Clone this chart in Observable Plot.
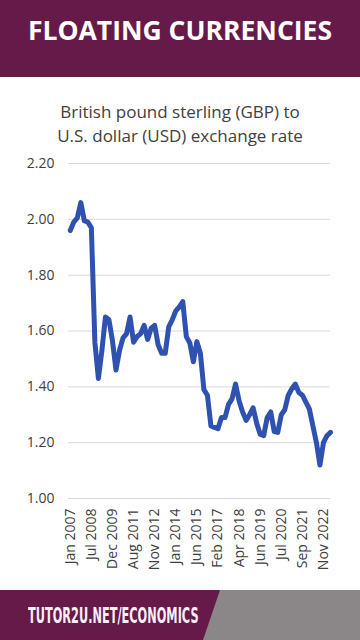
<!DOCTYPE html>
<html>
<head>
<meta charset="utf-8">
<script src="https://cdn.jsdelivr.net/npm/d3@7"></script>
<script src="https://cdn.jsdelivr.net/npm/@observablehq/plot@0.6"></script>
<style>
  html, body { margin: 0; padding: 0; }
  body { width: 360px; height: 640px; position: relative; overflow: hidden; background: #fff; font-family: "Open Sans", sans-serif; }
  #header { position: absolute; left: 0; top: 0; width: 360px; height: 77px; background: #661a49; }
  #header h1 { margin: 0; position: absolute; left: 0; width: 360px; top: 12px; text-align: center; color: #fff; font-family: "Open Sans", sans-serif; font-weight: 700; font-size: 26.5px; line-height: 36px; letter-spacing: 0px; }
  #subtitle { position: absolute; left: 0; width: 360px; top: 100px; text-align: center; color: #404040; font-family: "Open Sans", sans-serif; font-size: 17px; line-height: 24px; }
  #chart { position: absolute; left: 0; top: 150px; }
  #footer { position: absolute; left: 0; top: 590px; width: 360px; height: 50px; background: #8b8687; }
  #footer .band { position: absolute; left: 0; top: 0; width: 360px; height: 50px; background: #661a49; clip-path: polygon(0 0, 220px 0, 203px 50px, 0 50px); }
  #footer .txt { position: absolute; left: 28px; top: 14px; color: #fbeef6; font-family: "DejaVu Sans Condensed", "DejaVu Sans", sans-serif; font-weight: 700; font-size: 21px; line-height: 24px; white-space: nowrap; transform: scaleX(0.6); transform-origin: 0 50%; }
</style>
</head>
<body>
<div id="header"><h1>FLOATING CURRENCIES</h1></div>
<div id="subtitle">British pound sterling (GBP) to<br>U.S. dollar (USD) exchange rate</div>
<div id="chart"></div>
<div id="footer"><div class="band"></div><div class="txt">TUTOR2U.NET/ECONOMICS</div></div>
<script>
// Category labels shown on the x axis (every 6th observation)
const tickLabels = ["Jan 2007","Jul 2008","Dec 2009","Aug 2011","Nov 2012","Jan 2014","Jun 2015","Feb 2017","Apr 2018","Jun 2019","Jul 2020","Sep 2021","Nov 2022"];
const labelStep = 6;

const rates = [
  1.96, 1.99, 2.005, 2.06, 1.995, 1.99, 1.97, 1.56, 1.43, 1.53,
  1.65, 1.64, 1.565, 1.46, 1.53, 1.575, 1.59, 1.65, 1.56, 1.58,
  1.59, 1.62, 1.57, 1.61, 1.62, 1.55, 1.52, 1.52, 1.615, 1.64,
  1.672, 1.686, 1.705, 1.58, 1.557, 1.49, 1.562, 1.52, 1.39, 1.37,
  1.26, 1.255, 1.25, 1.29, 1.29, 1.337, 1.357, 1.41, 1.35, 1.31,
  1.28, 1.30, 1.325, 1.27, 1.23, 1.225, 1.29, 1.31, 1.24, 1.237,
  1.30, 1.318, 1.37, 1.393, 1.41, 1.38, 1.37, 1.345, 1.32, 1.26,
  1.20, 1.12, 1.20, 1.225, 1.237
];

// Y axis ticks
const yTicks = [1.00, 1.20, 1.40, 1.60, 1.80, 2.00, 2.20];

const data = rates.map((v, i) => ({i, v}));
const xTicks = tickLabels.map((_, k) => k * labelStep);

const plot = Plot.plot({
  width: 360,
  height: 440,
  marginTop: 13,
  marginLeft: 68,
  marginRight: 30,
  marginBottom: 92,
  style: { fontFamily: "'Open Sans', sans-serif", fontSize: "13px", color: "#404040", background: "transparent" },
  x: { domain: [-0.5, rates.length - 1], ticks: xTicks, tickFormat: d => tickLabels[d / labelStep], tickRotate: -90, tickSize: 0, tickPadding: 10, label: null },
  y: { domain: [1.0, 2.2], ticks: yTicks, tickFormat: d3.format(".2f"), tickSize: 0, tickPadding: 14, label: null },
  marks: [
    Plot.gridY(yTicks, { stroke: "#d9d9d9", strokeOpacity: 1, strokeWidth: 1 }),
    Plot.axisY({ ticks: yTicks, tickFormat: d3.format(".2f"), tickSize: 0, tickPadding: 14, fontSize: 14, fill: "#404040" }),
    Plot.axisX({ ticks: xTicks, tickFormat: d => tickLabels[d / labelStep], tickRotate: -90, tickSize: 0, tickPadding: 10, fontSize: 14, fill: "#404040" }),
    Plot.line(data, { x: "i", y: "v", stroke: "#2f52b0", strokeWidth: 5, strokeLinejoin: "round", strokeLinecap: "round" })
  ]
});
document.getElementById("chart").appendChild(plot);
</script>
</body>
</html>
